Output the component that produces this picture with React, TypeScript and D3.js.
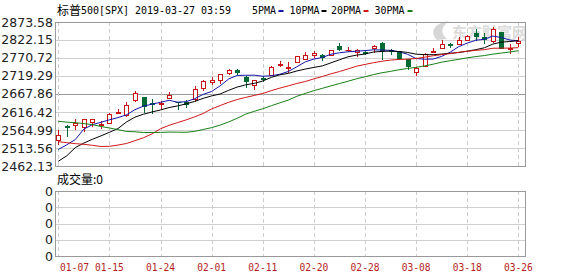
import React from "react";
import * as d3 from "d3";

const dates = ["01-07","01-08","01-09","01-10","01-11","01-14","01-15","01-16","01-17","01-18","01-22","01-23","01-24","01-25","01-28","01-29","01-30","01-31","02-01","02-04","02-05","02-06","02-07","02-08","02-11","02-12","02-13","02-14","02-15","02-19","02-20","02-21","02-22","02-25","02-26","02-27","02-28","03-01","03-04","03-05","03-06","03-07","03-08","03-11","03-12","03-13","03-14","03-15","03-18","03-19","03-20","03-21","03-22","03-25","03-26"];
const opens = [2535.61,2576.0,2580.0,2573.51,2588.11,2580.31,2585.1,2614.75,2609.28,2651.27,2657.88,2643.48,2638.84,2657.44,2644.97,2644.89,2653.62,2685.49,2702.32,2706.49,2728.34,2735.05,2717.53,2692.36,2712.4,2722.61,2750.3,2743.5,2760.24,2769.28,2779.05,2780.67,2780.24,2804.35,2792.36,2787.5,2788.11,2798.22,2814.37,2794.41,2790.27,2766.53,2730.79,2747.61,2787.34,2799.78,2810.38,2810.79,2822.61,2840.76,2831.34,2819.72,2844.52,2796.01,2812.66];
const highs = [2566.16,2579.82,2595.32,2597.82,2596.27,2589.32,2613.08,2625.76,2645.06,2675.47,2657.88,2653.19,2647.2,2672.38,2644.97,2650.93,2690.44,2708.95,2716.66,2724.99,2738.98,2738.08,2719.32,2708.07,2718.05,2748.19,2761.85,2757.9,2775.66,2787.33,2789.88,2781.58,2794.2,2813.49,2803.12,2795.76,2793.73,2808.02,2816.88,2796.44,2790.27,2767.25,2744.13,2784.0,2798.32,2821.24,2815.0,2830.73,2835.41,2852.42,2843.54,2860.31,2846.16,2809.79,2829.87];
const lows = [2524.56,2547.56,2568.89,2562.02,2577.4,2570.41,2585.1,2612.68,2606.36,2647.58,2617.27,2612.86,2627.01,2657.33,2624.06,2631.05,2648.34,2678.65,2696.88,2698.75,2724.03,2724.15,2687.26,2681.83,2703.79,2722.61,2748.63,2731.23,2760.24,2767.29,2774.06,2764.55,2779.11,2794.99,2789.47,2775.13,2782.51,2787.38,2767.66,2782.97,2768.69,2739.09,2722.27,2747.61,2786.73,2799.78,2803.46,2810.79,2821.99,2823.27,2812.43,2817.38,2800.47,2785.02,2803.99];
const closes = [2549.69,2574.41,2584.96,2596.64,2596.26,2582.61,2610.3,2616.1,2635.96,2670.71,2632.9,2638.7,2642.33,2664.76,2643.85,2640.0,2681.05,2704.1,2706.53,2724.87,2737.7,2731.61,2706.05,2707.88,2709.8,2744.73,2753.03,2745.73,2775.6,2779.76,2784.7,2774.88,2792.67,2796.11,2793.9,2792.38,2784.49,2803.69,2792.81,2789.65,2771.45,2748.93,2743.07,2783.3,2791.52,2810.92,2808.48,2822.48,2832.94,2832.57,2824.23,2854.88,2800.71,2798.36,2818.46];
// closes of the 29 sessions before 01-07 (for moving averages)
const priorCloses = [2649.93,2632.56,2673.45,2682.17,2743.79,2737.8,2760.17,2790.37,2700.06,2695.95,2633.08,2637.72,2636.78,2651.07,2650.54,2599.95,2545.94,2546.16,2506.96,2467.42,2416.62,2351.1,2467.7,2488.83,2485.74,2506.85,2510.03,2447.89,2531.94];
const priceTicks = [2462.13,2513.56,2564.99,2616.42,2667.86,2719.29,2770.72,2822.15,2873.58];
const tickDates = ["01-07","01-15","01-24","02-01","02-11","02-20","02-28","03-08","03-18","03-26"];
const maPeriods = [5, 10, 20, 30];
const maNames = ["5PMA", "10PMA", "20PMA", "30PMA"];
const volTicks = [0, 1, 2, 3, 4];

const maColors = ["#1414a8", "#000000", "#d01818", "#168016"];
const UP = "#c81414";
const DOWN = "#006a35";

export default function App() {
  const left = 55.5, right = 525.5;
  const x = d3.scalePoint<string>().domain(dates).range([58.3, 518.4]);
  const y = d3.scaleLinear().domain([2462.13, 2873.58]).range([166, 22]);
  const vy = d3.scaleLinear().domain([0, 4]).range([256, 191]);
  const all = priorCloses.concat(closes);
  const off = priorCloses.length;
  const maSeries = maPeriods.map((n) =>
    dates.map((d, i) => {
      const j = i + off;
      return { d, v: d3.mean(all.slice(j - n + 1, j + 1)) as number };
    })
  );
  const line = d3.line<{ d: string; v: number }>().x((p) => x(p.d) as number).y((p) => y(p.v));
  const px = (d: string) => Math.round(x(d) as number) + 0.5;
  const mono = "'DejaVu Sans Mono', 'Liberation Mono', monospace";
  const cjk = "'Noto Sans CJK SC', sans-serif";
  const axisFont = "'DejaVu Sans', Verdana, sans-serif";
  const legendX = [252, 289.5, 331, 374.5];
  const legendDash = [278.5, 321.5, 363.5, 407.5];

  return (
    <svg width={578} height={276} style={{ position: "absolute", left: 0, top: 0, background: "#fff" }}>
      {/* title */}
      <text x={57} y={15} fontFamily={cjk} fontSize={12} fill="#000">标普</text>
      <text x={81} y={14} fontFamily={mono} fontSize={11} fill="#000" textLength={150} lengthAdjust="spacingAndGlyphs">500[SPX] 2019-03-27 03:59</text>
      {maNames.map((nm, k) => (
        <g key={nm}>
          <text x={legendX[k]} y={14} fontFamily={mono} fontSize={11} fill="#000" textLength={nm.length * 6} lengthAdjust="spacingAndGlyphs">{nm}</text>
          <rect x={legendDash[k]} y={10} width={5} height={2} fill={maColors[k]} />
        </g>
      ))}

      {/* main grid */}
      {priceTicks.map((t, i) => (
        <line key={"h" + i} x1={left} x2={right} y1={Math.round(y(t)) + 0.5} y2={Math.round(y(t)) + 0.5}
          stroke={i === 4 ? "#999" : "#d0d0d0"} strokeWidth={1} />
      ))}
      {tickDates.map((d) => (
        <line key={"v" + d} x1={px(d)} x2={px(d)} y1={22} y2={166} stroke="#cccccc" strokeDasharray="4,3" />
      ))}
      {/* watermark */}
      <g opacity={0.75}>
        <path d="M437,40 C429,32 434,23 449,21 C441,27 440,33 447,39 Z" fill="#c9c9c9" />
        <text x={452} y={38} fontFamily={cjk} fontSize={15} fontWeight="bold" fill="#cfcfcf">东方财富网</text>
      </g>
      <rect x={left} y={22.5} width={right - left} height={144} fill="none" stroke="#999" />
      {priceTicks.map((t, i) => (
        <text key={"yl" + i} x={53} y={y(t) + 4.5} textAnchor="end" fontFamily={axisFont} fontSize={12.5} fill="#222">{t.toFixed(2)}</text>
      ))}

      {/* candles */}
      {dates.map((d, i) => {
        const o = opens[i], c = closes[i], h = highs[i], l = lows[i];
        const cx = px(d);
        const up = c >= o;
        const col = up ? UP : DOWN;
        const top = Math.round(y(Math.max(o, c)));
        const bot = Math.round(y(Math.min(o, c)));
        const yh = Math.round(y(h));
        const yl = Math.round(y(l));
        const hgt = bot - top;
        return (
          <g key={"c" + d}>
            <line x1={cx} x2={cx} y1={yh} y2={yl + 1} stroke={col} />
            {hgt < 1 ? (
              <line x1={cx - 3} x2={cx + 3} y1={top + 0.5} y2={top + 0.5} stroke={col} />
            ) : up ? (
              <rect x={cx - 2} y={top + 0.5} width={4} height={hgt} fill="#fff" stroke={col} />
            ) : (
              <rect x={cx - 2.5} y={top} width={5} height={hgt + 1} fill={col} />
            )}
          </g>
        );
      })}

      {/* moving averages */}
      {maSeries.map((s, k) => (
        <path key={"ma" + k} d={line(s) as string} fill="none" stroke={maColors[k]} strokeWidth={1} />
      ))}

      {/* volume panel */}
      <text x={57} y={184} fontFamily={cjk} fontSize={12} fill="#000">成交量:0</text>
      {volTicks.map((t) => (
        <line key={"vh" + t} x1={left} x2={right} y1={Math.round(vy(t)) + 0.5} y2={Math.round(vy(t)) + 0.5} stroke="#d0d0d0" />
      ))}
      {tickDates.map((d) => (
        <line key={"vv" + d} x1={px(d)} x2={px(d)} y1={191} y2={256} stroke="#cccccc" strokeDasharray="4,3" />
      ))}
      <rect x={left} y={191.5} width={right - left} height={65} fill="none" stroke="#999" />
      {volTicks.map((t) => (
        <text key={"vl" + t} x={53} y={vy(t) + 4.5} textAnchor="end" fontFamily={axisFont} fontSize={12.5} fill="#222">0</text>
      ))}
      {tickDates.map((d, i) => {
        const cx = x(d) as number;
        const lx = i === 0 ? 60 : cx - 14.5;
        return (
          <text key={"xl" + d} x={lx} y={271} fontFamily={mono} fontSize={11} fill="#b41e1e" textLength={29} lengthAdjust="spacingAndGlyphs">{d}</text>
        );
      })}
    </svg>
  );
}
